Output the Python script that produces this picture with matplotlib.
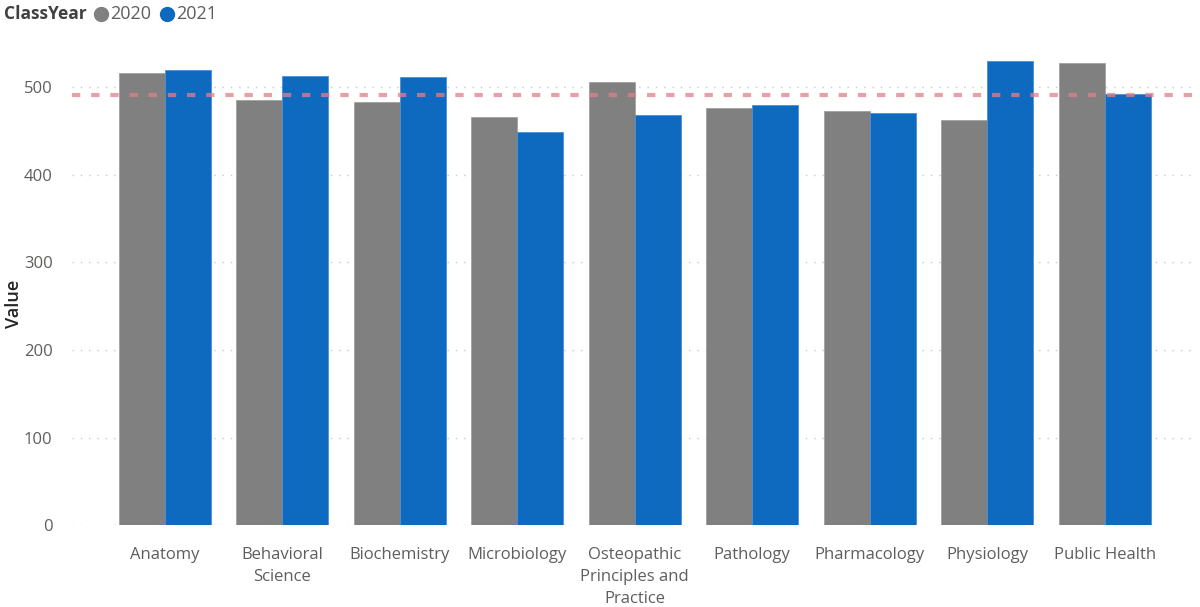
import matplotlib.pyplot as plt
from matplotlib.lines import Line2D
import numpy as np

categories = ["Anatomy", "Behavioral\nScience", "Biochemistry", "Microbiology",
              "Osteopathic\nPrinciples and\nPractice", "Pathology", "Pharmacology",
              "Physiology", "Public Health"]
values_2020 = [517, 486, 483, 466, 506, 477, 473, 463, 528]
values_2021 = [520, 513, 512, 449, 468, 480, 471, 530, 493]
avg_line = 491
yticks = [0, 100, 200, 300, 400, 500]

plt.rcParams['font.family'] = ['Open Sans', 'DejaVu Sans']

fig = plt.figure(figsize=(12, 6.07), dpi=100)
ax = fig.add_axes([0.06, 0.135, 0.936, 0.793])

x = np.arange(len(categories))
w = 0.39
ax.bar(x - w / 2, values_2020, w, color='#808080', edgecolor='#a0a0a0', linewidth=0.6, zorder=3)
ax.bar(x + w / 2, values_2021, w, color='#0D6ABF', edgecolor='#4a90d9', linewidth=0.6, zorder=3)

ax.axhline(avg_line, color='#E0808A', alpha=0.75, linewidth=3, linestyle=(0, (2.0, 2.6)), zorder=4)

ax.set_xlim(-0.79, 8.77)
ax.set_ylim(0, 550)
ax.set_yticks(yticks)
ax.set_xticks(x)
ax.set_xticklabels(categories, fontsize=12, color='#605E5C', linespacing=1.5)
ax.tick_params(axis='y', labelsize=12, labelcolor='#605E5C', length=0, pad=14)
ax.tick_params(axis='x', length=0, pad=16)
ax.grid(axis='y', color='#c8c8c8', linestyle=(0, (1, 5)), linewidth=1, zorder=0)
for s in ax.spines.values():
    s.set_visible(False)

fig.text(0.012, 0.5, 'Value', rotation=90, va='center', ha='center', fontsize=13,
         fontweight='semibold', color='#252423')

# legend
ly = 0.977
fig.text(0.003, ly, 'ClassYear', fontsize=12.5, fontweight='bold', color='#404040', va='center')
fig.add_artist(Line2D([0.0845], [ly], marker='o', markersize=10, color='#808080',
                      linestyle='none', transform=fig.transFigure))
fig.text(0.0915, ly, '2020', fontsize=13, color='#605E5C', va='center')
fig.add_artist(Line2D([0.1395], [ly], marker='o', markersize=10, color='#0D6ABF',
                      linestyle='none', transform=fig.transFigure))
fig.text(0.1465, ly, '2021', fontsize=13, color='#605E5C', va='center')

fig.savefig('out.png', dpi=100)
